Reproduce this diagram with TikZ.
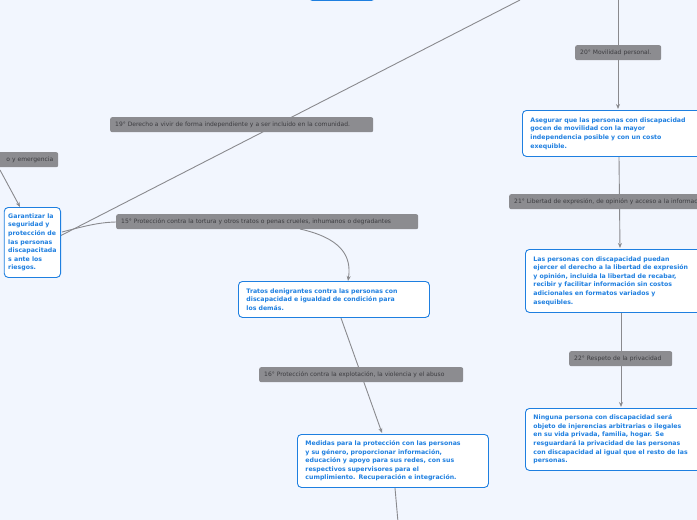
\documentclass[tikz,border=0pt]{standalone}
\usepackage{fontspec}
\setmainfont{DejaVu Sans}
\usetikzlibrary{arrows.meta}
\definecolor{bg}{HTML}{F2F6FE}
\definecolor{lab}{HTML}{8C8C90}
\definecolor{labtxt}{HTML}{3C3C40}
\definecolor{blu}{HTML}{1E7FE0}
\definecolor{ln}{HTML}{8A8A8E}
\tikzset{
 lbl/.style={fill=lab,rounded corners=2pt,text=labtxt,font=\fontsize{6}{7}\selectfont,anchor=north west,inner xsep=5pt,inner ysep=0pt,minimum height=15pt,align=left},
 box/.style={draw=blu,line width=0.9pt,fill=white,rounded corners=4pt,text=blu,font=\fontsize{6.2}{8.6}\selectfont\bfseries,anchor=north west,align=left,inner xsep=8pt,inner ysep=5pt},
 con/.style={draw=ln,line width=0.9pt},
 arr/.style={con,-{Stealth[length=5pt,width=4pt]}}
}
\begin{document}
\begin{tikzpicture}[x=1pt,y=-1pt]
\useasboundingbox (0,0) rectangle (697,520);
\fill[bg] (0,0) rectangle (697,520);
\clip (0,0) rectangle (697,520);
\node[box,minimum width=67pt,minimum height=10pt] (top) at (308,-10) {};
\coordinate (tr) at (520,0);
\coordinate (tv) at (618,0);
\coordinate (bot) at (398,522);
\coordinate (e0) at (0,170);
% connectors
\draw[arr] (e0) -- (20,207);
\draw[con] (60,236) -- (tr);
\draw[con] (62,232) .. controls (85,226) and (100,222) .. (118,222);
\draw[arr] (300,229) .. controls (340,238) and (352,255) .. (348,281);
\draw[arr] (341,318) -- (382,433);
\draw[con] (395,488) -- (bot);
\draw[arr] (tv) -- (618,109);
\draw[arr] (619,157) -- (620,248);
\draw[arr] (621,313) -- (621,407);
% left side
\node[lbl,text width=70pt,align=right] (L0) at (-22,152) {o y emergencia};
\node[box,anchor=north east,minimum height=70pt,inner xsep=4pt] (L1) at (61,207) {Garantizar la\\seguridad y\\protección de\\las personas\\discapacitada\\s ante los\\riesgos.};
\node[lbl,text width=253pt] (l19) at (110,117) {19° Derecho a vivir de forma independiente y a ser incluido en la comunidad.};
\node[lbl,text width=292pt] (l15) at (116,214) {15° Protección contra la tortura y otros tratos o penas crueles, inhumanos o degradantes};
\node[box,text width=175pt,minimum height=36pt] (tr1) at (238,281) {Tratos denigrantes contra las personas con\\discapacidad e igualdad de condición para\\los demás.};
\node[lbl,text width=194pt] (l16) at (259,367) {16° Protección contra la explotación, la violencia y el abuso};
\node[box,text width=175pt,minimum height=53pt] (med) at (297,434) {Medidas para la protección con las personas\\y su género, proporcionar información,\\educación y apoyo para sus redes, con sus\\respectivos supervisores para el\\cumplimiento. Recuperación e integración.};
% right side
\node[lbl,text width=76pt] (l20) at (575,45) {20° Movilidad personal.};
\node[box,text width=190pt,minimum height=46pt] (ase) at (522,110) {Asegurar que las personas con discapacidad\\gocen de movilidad con la mayor\\independencia posible y con un costo\\exequible.};
\node[lbl,text width=230pt] (l21) at (509,194) {21° Libertad de expresión, de opinión y acceso a la información};
\node[box,text width=190pt,minimum height=63pt] (lp) at (525,249) {Las personas con discapacidad puedan\\ejercer el derecho a la libertad de expresión\\y opinión, incluida la libertad de recabar,\\recibir y facilitar información sin costos\\adicionales en formatos variados y\\asequibles.};
\node[lbl,text width=93pt] (l22) at (569,351) {22° Respeto de la privacidad};
\node[box,text width=190pt,minimum height=62pt] (nin) at (525,408) {Ninguna persona con discapacidad será\\objeto de injerencias arbitrarias o ilegales\\en su vida privada, familia, hogar. Se\\resguardará la privacidad de las personas\\con discapacidad al igual que el resto de las\\personas.};
\end{tikzpicture}
\end{document}
